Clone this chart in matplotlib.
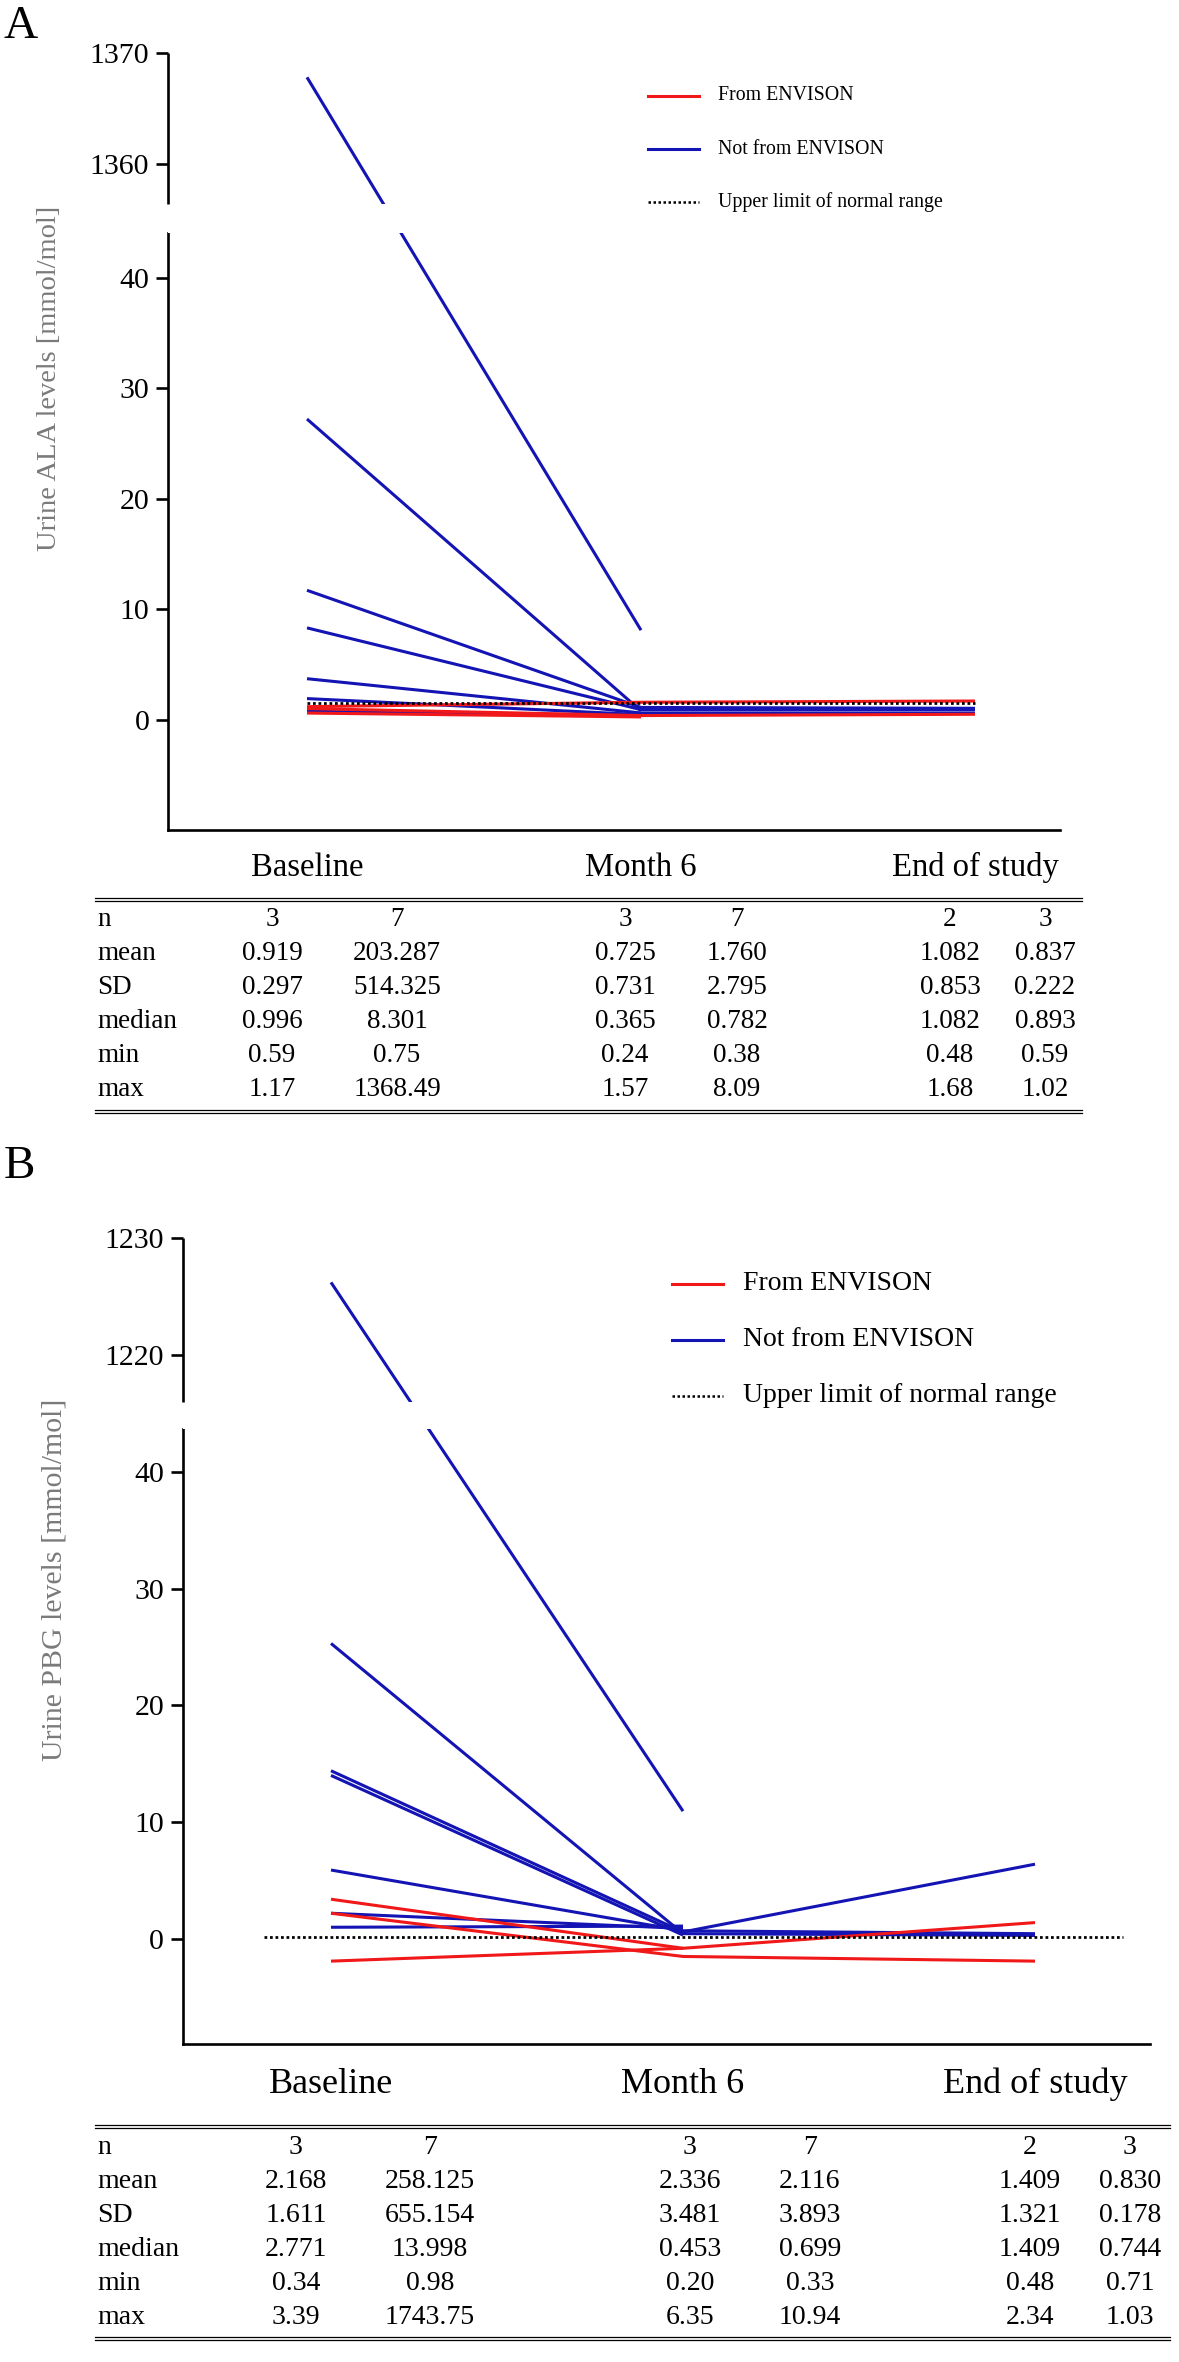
import numpy as np
import matplotlib
matplotlib.use("Agg")
import matplotlib.pyplot as plt
from matplotlib.lines import Line2D

# ---------------- data ----------------
timepoints = ["Baseline", "Month 6", "End of study"]
row_labels = ["n", "mean", "SD", "median", "min", "max"]
nan = np.nan

# Panel A: urine ALA, one list per patient (Baseline, Month 6, End of study)
ala_red = [
    [1.17, 1.57, 1.68],
    [0.996, 0.365, 0.48],
    [0.59, 0.24, nan],
]
ala_blue = [
    [1367.8, 8.09, nan],
    [27.2, 0.782, nan],
    [11.7, 1.10, 1.02],
    [8.30, 0.90, 0.893],
    [3.7, 0.60, 0.59],
    [1.9, 0.45, nan],
    [0.75, 0.38, nan],
]
ala_uln = 1.47

ala_table = [
    ["3", "7", "3", "7", "2", "3"],
    ["0.919", "203.287", "0.725", "1.760", "1.082", "0.837"],
    ["0.297", "514.325", "0.731", "2.795", "0.853", "0.222"],
    ["0.996", "8.301", "0.365", "0.782", "1.082", "0.893"],
    ["0.59", "0.75", "0.24", "0.38", "0.48", "0.59"],
    ["1.17", "1368.49", "1.57", "8.09", "1.68", "1.02"],
]

# Panel B: urine PBG
pbg_red = [
    [3.4, -0.8, 1.4],
    [2.2, -1.5, -1.9],
    [-1.9, -0.8, nan],
]
pbg_blue = [
    [1226.2, 10.94, nan],
    [25.3, 0.45, 0.30],
    [14.4, 0.60, 6.4],
    [14.0, 0.33, nan],
    [5.9, 0.70, 0.45],
    [2.2, 0.90, nan],
    [1.0, 1.10, nan],
]
pbg_uln = 0.2

pbg_table = [
    ["3", "7", "3", "7", "2", "3"],
    ["2.168", "258.125", "2.336", "2.116", "1.409", "0.830"],
    ["1.611", "655.154", "3.481", "3.893", "1.321", "0.178"],
    ["2.771", "13.998", "0.453", "0.699", "1.409", "0.744"],
    ["0.34", "0.98", "0.20", "0.33", "0.48", "0.71"],
    ["3.39", "1743.75", "6.35", "10.94", "2.34", "1.03"],
]

legend_labels = ["From ENVISON", "Not from ENVISON", "Upper limit of normal range"]

RED = "#f01818"
BLUE = "#1414b4"
GRAY = "#7a7a7a"

W, H = 1179, 2362
plt.rcParams["font.family"] = ["Liberation Serif", "DejaVu Serif"]
fig = plt.figure(figsize=(W / 100, H / 100), dpi=100)


def add_ax(x0, y0, x1, y1):
    return fig.add_axes([x0 / W, 1 - y1 / H, (x1 - x0) / W, (y1 - y0) / H])


def make_break(Lhi, Ulo, g):
    def fwd(v):
        v = np.asarray(v, dtype=float)
        mid = Lhi + (v - Lhi) * g / (Ulo - Lhi)
        return np.where(v <= Lhi, v, np.where(v >= Ulo, v - Ulo + Lhi + g, mid))

    def inv(t):
        t = np.asarray(t, dtype=float)
        mid = Lhi + (t - Lhi) * (Ulo - Lhi) / g
        return np.where(t <= Lhi, t, np.where(t >= Lhi + g, t - Lhi - g + Ulo, mid))

    return fwd, inv


def panel(letter, cfg, red, blue, uln, table, ylabel):
    s = cfg["scale"]
    Llo, Lhi = cfg["lower_lim"]
    Ulo, Uhi = cfg["upper_lim"]
    g = cfg["gap_px"] / s
    top = cfg["upper_top_px"]
    bottom = top + ((Uhi - Ulo) + (Lhi - Llo)) * s + cfg["gap_px"]
    xb, xs = cfg["xbase"], cfg["xstep"]
    xlim = ((cfg["axis_x"] - xb) / xs, (cfg["right"] - xb) / xs)

    ax = add_ax(cfg["axis_x"], top, cfg["right"], bottom)
    fwd, inv = make_break(Lhi, Ulo, g)
    ax.set_yscale("function", functions=(fwd, inv))
    ax.set_ylim(Llo, Uhi)
    ax.set_xlim(*xlim)

    x = np.arange(len(timepoints))
    for p in blue:
        ax.plot(x, p, color=BLUE, lw=cfg["lw"], solid_capstyle="butt", zorder=2)
    for p in red:
        ax.plot(x, p, color=RED, lw=cfg["lw"], solid_capstyle="butt", zorder=3)
    ax.plot([cfg["uln_x0"], cfg["uln_x1"]], [uln, uln], color="black",
            lw=cfg["lw"] * 0.9, ls=(0, (1, 1)), zorder=4)
    # white break band
    ax.axhspan(Lhi, Ulo, color="white", lw=0, zorder=6)

    for sp in ("top", "right"):
        ax.spines[sp].set_visible(False)
    ax.spines["left"].set_linewidth(1.9)
    ax.spines["left"].set_bounds(Llo, Lhi)
    ax.spines["bottom"].set_linewidth(1.9)
    ax.plot([0, 0], [Ulo, Uhi], transform=ax.get_yaxis_transform(),
            color="black", lw=1.9, clip_on=False, zorder=7, solid_capstyle="butt")
    ticks = cfg["lower_ticks"] + cfg["upper_ticks"]
    ax.set_yticks(ticks, labels=[str(t) for t in ticks])
    ax.yaxis.set_minor_locator(matplotlib.ticker.NullLocator())
    ax.tick_params(axis="y", direction="out", length=8.5, width=1.9,
                   labelsize=cfg["fs_tick"], pad=5)
    ax.set_xticks(x)
    ax.set_xticklabels(timepoints, fontsize=cfg["fs_xlab"])
    ax.tick_params(axis="x", length=0, pad=cfg["xpad"])

    # panel letter
    fig.text(cfg["letter_xy"][0] / W, 1 - cfg["letter_xy"][1] / H, letter,
             fontsize=cfg["fs_letter"], ha="left", va="top")
    # y label
    fig.text(cfg["ylab_xy"][0] / W, 1 - cfg["ylab_xy"][1] / H, ylabel,
             fontsize=cfg["fs_ylab"], color=GRAY, rotation=90,
             ha="center", va="center")

    # legend
    lx0, lx1, ly0, ldy = cfg["leg"]
    styles = [dict(color=RED, lw=2.2), dict(color=BLUE, lw=2.2),
              dict(color="black", lw=1.8, ls=(0, (1, 1)))]
    for i, (lab, st) in enumerate(zip(legend_labels, styles)):
        yy = 1 - (ly0 + i * ldy) / H
        fig.add_artist(Line2D([lx0 / W, lx1 / W], [yy, yy], zorder=8, **st))
        fig.text((lx1 + cfg["leg_gap"]) / W, yy, lab, fontsize=cfg["fs_leg"],
                 ha="left", va="center")

    # table
    tx0, tx1 = cfg["table_x"]
    ttop = cfg["table_top"]
    rh = cfg["row_h"]
    for yy in (ttop, ttop + 3):
        fig.add_artist(Line2D([tx0 / W, tx1 / W], [1 - yy / H] * 2, color="black", lw=0.9))
    bot = ttop + cfg["row0"] + rh * (len(row_labels) - 1) + cfg["table_bot_pad"]
    for yy in (bot, bot + 3):
        fig.add_artist(Line2D([tx0 / W, tx1 / W], [1 - yy / H] * 2, color="black", lw=0.9))
    for r, lab in enumerate(row_labels):
        yy = 1 - (ttop + cfg["row0"] + r * rh) / H
        fig.text(cfg["rowlab_x"] / W, yy, lab, fontsize=cfg["fs_tab"], ha="left", va="center")
        for c, val in enumerate(table[r]):
            fig.text(cfg["cols"][c] / W, yy, val, fontsize=cfg["fs_tab"],
                     ha="center", va="center")


cfgA = dict(
    axis_x=168, right=1060, xbase=307, xstep=334,
    scale=11.05, upper_lim=(1356.3, 1370), upper_top_px=53, gap_px=29,
    upper_ticks=[1360, 1370],
    lower_lim=(-10, 44), lower_ticks=[0, 10, 20, 30, 40],
    uln_x0=0, uln_x1=2, lw=2.2,
    fs_tick=21.5, fs_xlab=23.5, xpad=16, fs_letter=34, letter_xy=(4, 6),
    ylab_xy=(50, 378), fs_ylab=20.5,
    leg=(648, 699, 96, 53), leg_gap=19, fs_leg=14.3,
    table_x=(95, 1082), table_top=898, row_h=34, row0=22, table_bot_pad=20,
    rowlab_x=97, cols=[272, 397, 625, 737, 950, 1045], fs_tab=19.5,
)
cfgB = dict(
    axis_x=183, right=1150, xbase=331, xstep=352,
    scale=11.68, upper_lim=(1216.0, 1230), upper_top_px=1238, gap_px=27,
    upper_ticks=[1220, 1230],
    lower_lim=(-9, 43.7), lower_ticks=[0, 10, 20, 30, 40],
    uln_x0=-0.19, uln_x1=2.25, lw=2.2,
    fs_tick=21.5, fs_xlab=26, xpad=17, fs_letter=34, letter_xy=(4, 1145),
    ylab_xy=(55, 1580), fs_ylab=21.5,
    leg=(672, 723, 1284, 56), leg_gap=20, fs_leg=20,
    table_x=(95, 1170), table_top=2125, row_h=34, row0=22, table_bot_pad=20,
    rowlab_x=97, cols=[296, 430, 690, 810, 1030, 1130], fs_tab=20,
)

panel("A", cfgA, ala_red, ala_blue, ala_uln, ala_table, "Urine ALA levels [mmol/mol]")
panel("B", cfgB, pbg_red, pbg_blue, pbg_uln, pbg_table, "Urine PBG levels [mmol/mol]")

fig.savefig("out.png", dpi=100, facecolor="white")
